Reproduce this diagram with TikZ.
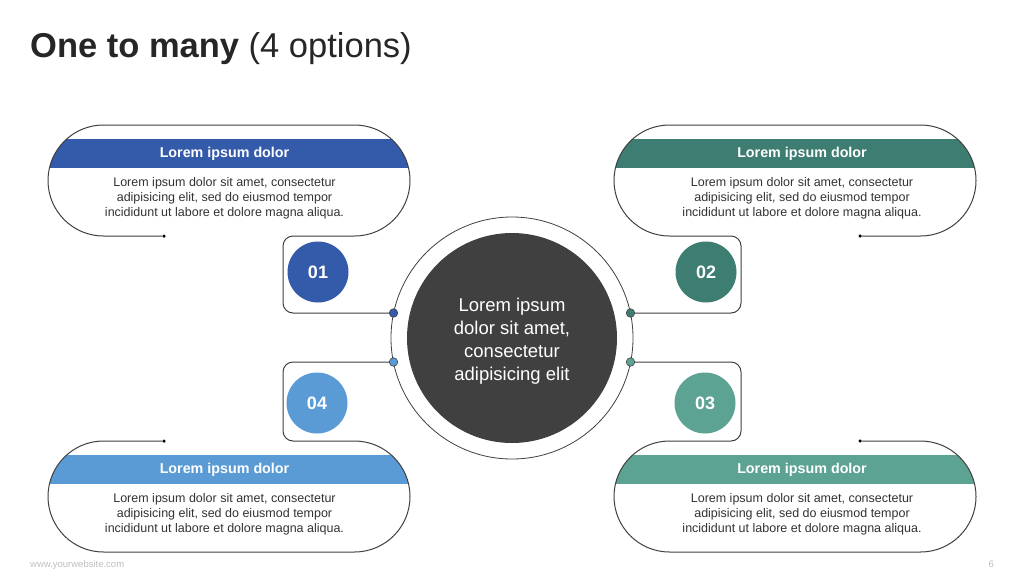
\documentclass[tikz,border=0pt]{standalone}
\usepackage{fontspec}
\setmainfont{Liberation Sans}
\definecolor{cA}{HTML}{345AAA}
\definecolor{cB}{HTML}{3E7D72}
\definecolor{cC}{HTML}{5CA394}
\definecolor{cD}{HTML}{5B9BD5}
\definecolor{hubgray}{HTML}{404040}
\definecolor{linegray}{HTML}{404040}
\definecolor{txtgray}{HTML}{333333}

\begin{document}
\begin{tikzpicture}
  [x=1pt,y=-1pt,
   card/.style={draw=linegray,line width=1pt},
   head/.style={text=white,font=\fontsize{14.3}{16}\selectfont\bfseries},
   body/.style={text=txtgray,align=center,font=\fontsize{12.5}{15}\selectfont},
   num/.style={circle,fill=#1,minimum size=61pt,inner sep=0pt,text=white,font=\fontsize{18}{20}\selectfont\bfseries},
   port/.style={circle,draw=linegray,fill=#1,minimum size=8.5pt,inner sep=0pt,line width=0.6pt},
   tip/.style={circle,fill=black,minimum size=3.5pt,inner sep=0pt}]
  \useasboundingbox (0,0) rectangle (1024,576);
  \fill[white] (0,0) rectangle (1024,576);

  % title and footer
  \node[anchor=base west,inner sep=0pt,text=black!85,font=\fontsize{34.5}{38}\selectfont] (title) at (30,57)
    {\textbf{One to many} (4 options)};
  \node[anchor=base west,inner sep=0pt,text=black!25,font=\fontsize{9.5}{11}\selectfont] (web) at (30,567) {www.yourwebsite.com};
  \node[anchor=base east,inner sep=0pt,text=black!25,font=\fontsize{9.5}{11}\selectfont] (page) at (994,567) {6};

  % hub
  \node[circle,draw=linegray,line width=0.8pt,minimum size=242pt,inner sep=0pt] (ring) at (512,338) {};
  \node[circle,fill=hubgray,minimum size=210pt,inner sep=0pt,text=white,align=center,
        font=\fontsize{18.5}{23}\selectfont] (hub) at (512,338) {};
  \node[text=white,align=center,font=\fontsize{18.5}{23}\selectfont] (hubtext) at (512,341)
    {Lorem ipsum\\dolor sit amet,\\consectetur\\adipisicing elit};

  % cards
  \foreach \n/\cx/\tx/\ty/\col in {1/229/224.5/125/cA,2/795/802/125/cB,3/795/802/441/cC,4/229/224.5/441/cD}{
    \begin{scope}
      \clip[rounded corners=55.5pt] ({\cx-181},\ty) rectangle ++(362,111);
      \fill[\col] ({\cx-181},{\ty+14}) rectangle ++(362,29);
    \end{scope}
    \node[head] (h\n) at (\tx,{\ty+28.5}) {Lorem ipsum dolor};
    \node[body] (b\n) at (\tx,{\ty+73})
      {Lorem ipsum dolor sit amet, consectetur\\adipisicing elit, sed do eiusmod tempor\\incididunt ut labore et dolore magna aliqua.};
  }

  % numbers
  \node[num=cA] (n1) at (318,272) {01};
  \node[num=cB] (n2) at (706,272) {02};
  \node[num=cC] (n3) at (705,403) {03};
  \node[num=cD] (n4) at (317,403) {04};

  % ports on the ring
  \node[port=cA] (p1) at (393.5,313) {};
  \node[port=cB] (p2) at (630.5,313) {};
  \node[port=cC] (p3) at (630.5,362) {};
  \node[port=cD] (p4) at (393.5,362) {};

  % loose ends
  \node[tip] (t1) at (164,236) {};
  \node[tip] (t2) at (860,236) {};
  \node[tip] (t3) at (860,441) {};
  \node[tip] (t4) at (164,441) {};

  % outlines running into the ports
  \draw[card] (t1) -- (103.5,236) arc[start angle=90,end angle=270,radius=55.5] -- (354.5,125)
    arc[start angle=-90,end angle=90,radius=55.5] [rounded corners=10pt] -- (283,236) -- (283,313) -- (p1);
  \draw[card] (t2) -- (920.5,236) arc[start angle=90,end angle=-90,radius=55.5] -- (669.5,125)
    arc[start angle=270,end angle=90,radius=55.5] [rounded corners=10pt] -- (741,236) -- (741,313) -- (p2);
  \draw[card] (t3) -- (920.5,441) arc[start angle=-90,end angle=90,radius=55.5] -- (669.5,552)
    arc[start angle=90,end angle=270,radius=55.5] [rounded corners=10pt] -- (741,441) -- (741,362) -- (p3);
  \draw[card] (t4) -- (103.5,441) arc[start angle=270,end angle=90,radius=55.5] -- (354.5,552)
    arc[start angle=90,end angle=-90,radius=55.5] [rounded corners=10pt] -- (283,441) -- (283,362) -- (p4);
\end{tikzpicture}
\end{document}
